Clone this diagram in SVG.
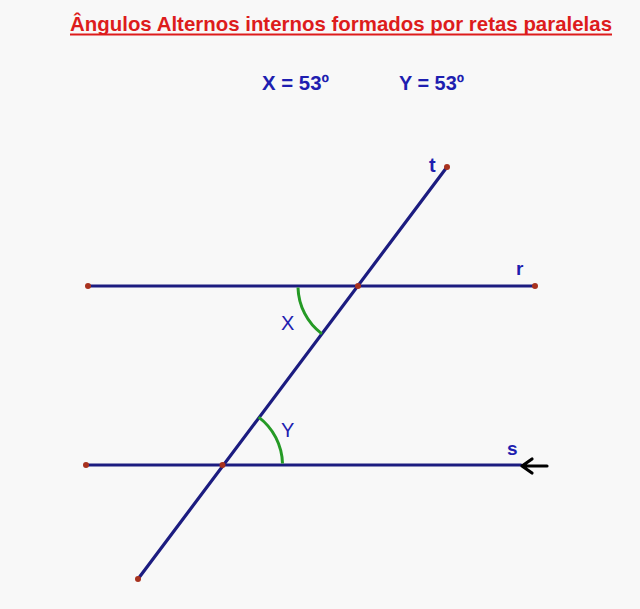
<svg xmlns="http://www.w3.org/2000/svg" width="640" height="609" viewBox="0 0 640 609">
<style>
.ln{stroke:#1c1c80;stroke-width:3.2;stroke-linecap:round;fill:none}
.pt{fill:#a8321e}
.arc{stroke:#259a25;stroke-width:3;fill:none}
.lbl{font-family:"Liberation Sans",Arial,sans-serif;fill:#1e1eb0}
.b{font-weight:bold}
</style>
<rect width="640" height="609" fill="#f8f8f8"/>
<g id="title">
<text x="70" y="31" font-family="Liberation Sans,Arial,sans-serif" font-weight="bold" font-size="21" fill="#dd1c1c" textLength="542" lengthAdjust="spacingAndGlyphs">Ângulos Alternos internos formados por retas paralelas</text>
<rect x="70" y="33.5" width="542" height="2" fill="#dd1c1c"/>
</g>
<g id="values">
<text class="lbl b" x="262" y="90" font-size="20" textLength="67" lengthAdjust="spacingAndGlyphs">X = 53º</text>
<text class="lbl b" x="399" y="90" font-size="20" textLength="65" lengthAdjust="spacingAndGlyphs">Y = 53º</text>
</g>
<g id="connectors">
<g id="line-r">
<line class="ln" x1="88" y1="286" x2="535" y2="286"/>
<circle class="pt" cx="88" cy="286" r="3"/>
<circle class="pt" cx="535" cy="286" r="3"/>
<text class="lbl b" x="516" y="275" font-size="19">r</text>
</g>
<g id="line-s">
<line class="ln" x1="86" y1="465" x2="521" y2="465"/>
<circle class="pt" cx="86" cy="465" r="3"/>
<text class="lbl b" x="507" y="455" font-size="19">s</text>
</g>
<g id="line-t">
<line class="ln" x1="447" y1="167" x2="138" y2="579"/>
<circle class="pt" cx="447" cy="167" r="3"/>
<circle class="pt" cx="138" cy="579" r="3"/>
<text class="lbl b" x="429" y="172" font-size="20">t</text>
</g>
</g>
<g id="intersections">
<circle class="pt" cx="358" cy="286" r="3"/>
<circle class="pt" cx="222.5" cy="465" r="3"/>
</g>
<g id="angle-X">
<path class="arc" d="M298,287.5 A60,60 0 0 0 321.9,333.9"/>
<text class="lbl" x="281" y="330" font-size="20">X</text>
</g>
<g id="angle-Y">
<path class="arc" d="M282.5,463.5 A60,60 0 0 0 258.6,417.1"/>
<text class="lbl" x="281" y="437" font-size="20">Y</text>
</g>
<g id="cursor">
<path d="M522,466 H547 M522,466 L532,459 M522,466 L532,473" stroke="#000" stroke-width="3.2" fill="none" stroke-linecap="round" stroke-linejoin="round"/>
</g>
</svg>
